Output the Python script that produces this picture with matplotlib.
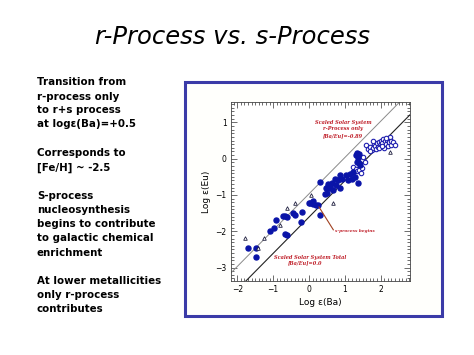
import matplotlib.pyplot as plt
from matplotlib.patches import Rectangle
from matplotlib.ticker import MultipleLocator

# filled circles: log eps(Ba), log eps(Eu)
ba_fill = [-1.69, -1.49, -1.48, -1.09, -0.98, -0.92, -0.73, -0.66, -0.62, -0.67, -0.60,
           -0.44, -0.39, -0.23, -0.20, 0.00, 0.03, 0.10, 0.12, 0.19, 0.26, 0.30, 0.31,
           0.45, 0.47, 0.52, 0.54, 0.59, 0.63, 0.67, 0.72, 0.75, 0.87, 0.88, 0.93, 1.02,
           1.10, 1.14, 1.19, 1.24, 1.29, 1.38, 1.31, 1.33, 1.36, 1.40, 1.42, 1.33, 1.40,
           0.50, 0.60, 0.80]
eu_fill = [-2.46, -2.46, -2.71, -1.98, -1.91, -1.68, -1.58, -1.58, -1.60, -2.07, -2.09,
           -1.50, -1.55, -1.74, -1.48, -1.21, -1.21, -1.17, -1.25, -1.29, -1.27, -0.65, -1.55,
           -0.97, -0.82, -0.74, -0.70, -0.82, -0.68, -0.86, -0.57, -0.72, -0.82, -0.44, -0.57,
           -0.45, -0.58, -0.42, -0.56, -0.36, -0.50, -0.68, 0.10, 0.17, 0.01, -0.13, -0.17,
           -0.08, 0.13, -0.95, -0.75, -0.60]

# open circles (high Ba stars)
ba_open = [1.24, 1.30, 1.35, 1.40, 1.45, 1.47, 1.60, 1.65, 1.70, 1.75, 1.80, 1.82, 1.85,
           1.88, 1.90, 1.92, 1.95, 1.97, 2.00, 2.02, 2.05, 2.08, 2.10, 2.12, 2.15, 2.18,
           2.20, 2.22, 2.25, 2.28, 2.30, 2.35, 2.40, 1.78, 1.95, 2.05, 2.15, 1.70, 1.50, 1.55]
eu_open = [-0.22, -0.28, -0.35, -0.30, -0.40, -0.25, 0.38, 0.28, 0.32, 0.25, 0.30, 0.40,
           0.35, 0.28, 0.42, 0.33, 0.45, 0.38, 0.50, 0.36, 0.42, 0.55, 0.30, 0.48, 0.40,
           0.52, 0.35, 0.45, 0.60, 0.38, 0.50, 0.45, 0.39, 0.48, 0.30, 0.36, 0.56, 0.20,
           0.05, -0.10]

# triangles
ba_tri = [-1.79, -1.41, -1.25, -0.81, -0.62, -0.39, 0.06, 0.68, 2.26]
eu_tri = [-2.19, -2.47, -2.19, -1.84, -1.37, -1.22, -1.00, -1.21, 0.19]

# scaled solar lines: log eps(Eu) = log eps(Ba) + offset
line_x = [-2.3, 2.9]
off_r = -0.97
off_tot = -1.61

fig = plt.figure(figsize=(4.74, 3.55), dpi=100)

# title
fig.text(0.49, 0.895, "r-Process vs. s-Process", fontsize=17.5, style="italic",
         ha="center", va="center", family="DejaVu Sans")

# left text
left_lines = [
    (0.768, "Transition from"), (0.728, "r-process only"), (0.689, "to r+s process"),
    (0.650, "at log\u03b5(Ba)=+0.5"),
    (0.569, "Corresponds to"), (0.527, "[Fe/H] ~ -2.5"),
    (0.448, "S-process"), (0.408, "nucleosynthesis"), (0.369, "begins to contribute"),
    (0.329, "to galactic chemical"), (0.287, "enrichment"),
    (0.208, "At lower metallicities"), (0.169, "only r-process"), (0.130, "contributes"),
]
for y, t in left_lines:
    fig.text(0.078, y, t, fontsize=7.4, weight="bold", ha="left", va="center")

# blue panel frame
fig.patches.append(Rectangle((185 / 474, 1 - 316 / 355), 257 / 474, 234 / 355,
                             transform=fig.transFigure, facecolor="#fffffc",
                             edgecolor="#3b3ba8", lw=2.2, zorder=-5))

ax = fig.add_axes([0.487, 0.2085, 0.378, 0.504])
ax.set_zorder(2)
ax.set_facecolor("white")
ax.set_xlim(-2.18, 2.82)
ax.set_ylim(-3.37, 1.56)

ax.plot(line_x, [x + off_r for x in line_x], color="#8a8a8a", lw=0.7)
ax.plot(line_x, [x + off_tot for x in line_x], color="#222222", lw=0.8)

ax.plot(ba_open, eu_open, "o", ms=3.2, mfc="white", mec="#2020b0", mew=0.8)
ax.plot(ba_fill, eu_fill, "o", ms=3.6, color="#0a14a8")
ax.plot(ba_tri, eu_tri, "^", ms=2.6, mfc="white", mec="#202040", mew=0.6)

red = "#c0202a"
fs = 3.6
kw = dict(color=red, style="italic", weight="bold", family="DejaVu Serif", va="center")
ax.text(0.96, 1.0, "Scaled Solar System", fontsize=fs, ha="center", **kw)
ax.text(0.96, 0.83, "r-Process only", fontsize=fs, ha="center", **kw)
ax.text(0.96, 0.64, "[Ba/Eu]=-0.89", fontsize=fs, ha="center", **kw)
ax.text(0.73, -1.99, "s-process begins", fontsize=3.1, ha="left", **kw)
ax.plot([0.28, 0.68], [-1.33, -1.96], color="#a04020", lw=0.8)
ax.text(0.02, -2.71, "Scaled Solar System Total", fontsize=fs, ha="center", **kw)
ax.text(-0.1, -2.88, "[Ba/Eu]=0.0", fontsize=fs, ha="center", **kw)

ax.xaxis.set_major_locator(MultipleLocator(1))
ax.xaxis.set_minor_locator(MultipleLocator(0.1))
ax.yaxis.set_major_locator(MultipleLocator(1))
ax.yaxis.set_minor_locator(MultipleLocator(0.1))
ax.tick_params(which="both", direction="in", top=True, right=True, labelsize=5.5,
               color="#333333", width=0.5, pad=3)
ax.tick_params(which="major", length=4)
ax.tick_params(which="minor", length=2)
for s in ax.spines.values():
    s.set_linewidth(0.6)
    s.set_color("#444444")
ax.set_xlabel("Log \u03b5(Ba)", fontsize=6.5, labelpad=3)
ax.set_ylabel("Log \u03b5(Eu)", fontsize=6.5, labelpad=3)

fig.savefig("out.png", dpi=100)
